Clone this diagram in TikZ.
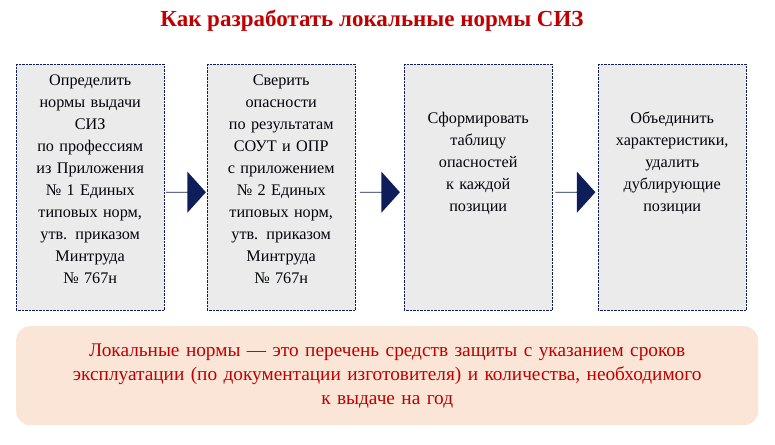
\documentclass[tikz,border=0pt]{standalone}
\usepackage{fontspec}
\setmainfont{Liberation Serif}
\usetikzlibrary{shapes.arrows}
\definecolor{navy}{HTML}{0E1E5A}
\definecolor{boxfill}{HTML}{EBEBEB}
\definecolor{peach}{HTML}{FBE5D6}
\definecolor{dred}{HTML}{C00000}
\begin{document}
\begin{tikzpicture}[x=1pt,y=-1pt,
  stepbox/.style={draw=navy,densely dotted,fill=boxfill,minimum width=148pt,minimum height=246pt,anchor=north west},
  steptext/.style={text width=146pt,align=center,font=\fontsize{16.2}{22}\selectfont,text=black!90!navy,anchor=north,inner sep=0pt},
  arr/.style={single arrow,fill=navy,draw=none,minimum width=41pt,single arrow head extend=9.5pt,
    single arrow head indent=0pt,minimum height=40pt,inner sep=0pt,single arrow tip angle=96}]
\useasboundingbox (0,0) rectangle (775,444);
\node[font=\fontsize{23}{26}\selectfont\bfseries,text=dred] (t) at (372,21) {Как разработать локальные нормы СИЗ};
\node[stepbox] (b1) at (16,64) {};
\node[stepbox] (b2) at (207,64) {};
\node[stepbox] (b3) at (404,64) {};
\node[stepbox] (b4) at (598,64) {};
\node[steptext] (t1) at ([yshift=-11pt]b1.north) {Определить\\нормы выдачи\\СИЗ\\по профессиям\\из Приложения\\№ 1 Единых\\типовых норм,\\утв. приказом\\Минтруда\\№ 767н};
\node[steptext] (t2) at ([yshift=-11pt]b2.north) {Сверить\\опасности\\по результатам\\СОУТ и ОПР\\с приложением\\№ 2 Единых\\типовых норм,\\утв. приказом\\Минтруда\\№ 767н};
\node[steptext] (t3) at ([yshift=-48pt]b3.north) {Сформировать\\таблицу\\опасностей\\к каждой\\позиции};
\node[steptext] (t4) at ([yshift=-48pt]b4.north) {Объединить\\характеристики,\\удалить\\дублирующие\\позиции};
\path ([yshift=-5pt]b1.east) -- ([yshift=-5pt]b2.west) node[midway,arr] (a1) {};
\path ([yshift=-5pt]b2.east) -- ([yshift=-5pt]b3.west) node[midway,arr] (a2) {};
\path ([yshift=-5pt]b3.east) -- ([yshift=-5pt]b4.west) node[midway,arr] (a3) {};
\node[fill=peach,rounded corners=14pt,minimum width=742pt,minimum height=99pt,anchor=north west,
  text width=730pt,align=center,text=dred,font=\fontsize{19.3}{24}\selectfont] (n) at (16,326)
  {Локальные нормы — это перечень средств защиты с указанием сроков\\эксплуатации (по документации изготовителя) и количества, необходимого\\к выдаче на год};
\end{tikzpicture}
\end{document}
